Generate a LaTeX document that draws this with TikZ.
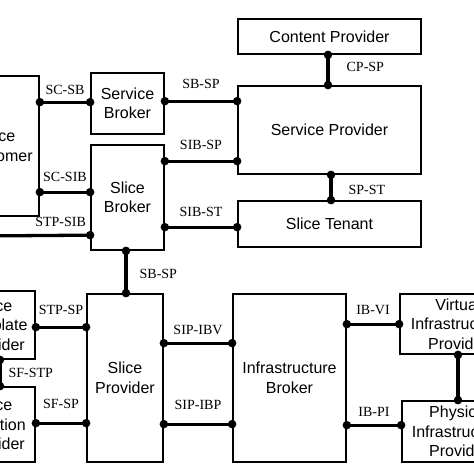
\documentclass[tikz,border=0pt]{standalone}
\usepackage{fontspec}
\setmainfont{Liberation Sans}
\newfontfamily\lblfont{Liberation Serif}
\usetikzlibrary{positioning}
\begin{document}
\begin{tikzpicture}[x=1pt,y=-1pt,
  box/.style={draw, line width=1.7pt, inner sep=0pt, align=center, font=\fontsize{16}{19.5}\selectfont},
  conn/.style={line width=3.3pt},
  jdot/.style={circle, fill, inner sep=0pt, minimum size=8.5pt},
  lbl/.style={font=\lblfont\fontsize{14}{14}\selectfont, inner sep=0pt}]
\useasboundingbox (0,0) rectangle (474,474);
\fill[white] (0,0) rectangle (474,474);
\clip (0,0) rectangle (474,474);

\node[box, minimum width=82pt, minimum height=140pt] (sc) at (-2,146) {Slice\\Customer};
\node[box, minimum width=73pt, minimum height=61pt] (sb) at (127.5,103.5) {Service\\Broker};
\node[box, minimum width=73pt, minimum height=105pt] (slb) at (127.5,197.5) {Slice\\Broker};
\node[box, minimum width=183pt, minimum height=35pt] (cp) at (329.5,36.5) {Content Provider};
\node[box, minimum width=183pt, minimum height=88pt] (sp) at (329.5,130) {Service Provider};
\node[box, minimum width=183pt, minimum height=46pt] (st) at (329.5,224) {Slice Tenant};
\node[box, minimum width=80pt, minimum height=68pt] (stp) at (-5,325) {Slice\\Template\\Provider};
\node[box, minimum width=80pt, minimum height=75pt] (sfp) at (-5,424.5) {Slice\\Function\\Provider};
\node[box, minimum width=76pt, minimum height=168pt] (slp) at (125,378) {Slice\\Provider};
\node[box, minimum width=113pt, minimum height=168pt] (ib) at (289.5,378) {Infrastructure\\Broker};
\node[box, minimum width=116pt, minimum height=60pt] (vip) at (458,324) {Virtual\\Infrastructure\\Provider};
\node[box, minimum width=114pt, minimum height=61pt] (pip) at (459,431.5) {Physical\\Infrastructure\\Provider};
\coordinate (stpsib) at (-20,236);

% horizontal connectors
\draw[conn] ([yshift=-27pt]sc.north east) -- node[jdot,pos=0]{} node[jdot,pos=1]{} node[lbl,midway,above=5.5pt]{SC-SB} ([yshift=-30pt]sb.north west);
\draw[conn] ([yshift=-117pt]sc.north east) -- node[jdot,pos=0]{} node[jdot,pos=1]{} node[lbl,midway,above=8.5pt]{SC-SIB} ([yshift=-48pt]slb.north west);
\draw[conn] (stpsib) -- node[jdot,pos=1]{} node[lbl,midway,above=7.5pt,xshift=25.5pt]{STP-SIB} ([yshift=-91pt]slb.north west);
\draw[conn] ([yshift=-29pt]sb.north east) -- node[jdot,pos=0]{} node[jdot,pos=1]{} node[lbl,midway,above=10.5pt]{SB-SP} ([yshift=-16pt]sp.north west);
\draw[conn] ([yshift=-17pt]slb.north east) -- node[jdot,pos=0]{} node[jdot,pos=1]{} node[lbl,midway,above=9.5pt]{SIB-SP} ([yshift=-76pt]sp.north west);
\draw[conn] ([yshift=-83pt]slb.north east) -- node[jdot,pos=0]{} node[jdot,pos=1]{} node[lbl,midway,above=8.5pt]{SIB-ST} ([yshift=-27pt]st.north west);
\draw[conn] ([yshift=-37pt]stp.north east) -- node[jdot,pos=0]{} node[jdot,pos=1]{} node[lbl,midway,above=10.5pt]{STP-SP} ([yshift=-34pt]slp.north west);
\draw[conn] ([yshift=-37pt]sfp.north east) -- node[jdot,pos=0]{} node[jdot,pos=1]{} node[lbl,midway,above=12.5pt]{SF-SP} ([yshift=-130pt]slp.north west);
\draw[conn] ([yshift=-50pt]slp.north east) -- node[jdot,pos=0]{} node[jdot,pos=1]{} node[lbl,midway,above=6.5pt]{SIP-IBV} ([yshift=-50pt]ib.north west);
\draw[conn] ([yshift=-131pt]slp.north east) -- node[jdot,pos=0]{} node[jdot,pos=1]{} node[lbl,midway,above=12.5pt]{SIP-IBP} ([yshift=-131pt]ib.north west);
\draw[conn] ([yshift=-31pt]ib.north east) -- node[jdot,pos=0]{} node[jdot,pos=1]{} node[lbl,midway,above=7.5pt]{IB-VI} ([yshift=-31pt]vip.north west);
\draw[conn] ([yshift=-132pt]ib.north east) -- node[jdot,pos=0]{} node[jdot,pos=1]{} node[lbl,midway,above=6.5pt]{IB-PI} ([yshift=-25pt]pip.north west);

% vertical connectors
\draw[conn] ([xshift=-1.5pt]cp.south) -- node[jdot,pos=0]{} node[jdot,pos=1]{} node[lbl,midway,right=17pt,yshift=3pt]{CP-SP} ([xshift=-1.5pt]sp.north);
\draw[conn] ([xshift=1.5pt]sp.south) -- node[jdot,pos=0]{} node[jdot,pos=1]{} node[lbl,midway,right=16pt,yshift=-2.5pt]{SP-ST} ([xshift=1.5pt]st.north);
\draw[conn] ([xshift=-1.5pt]slb.south) -- node[jdot,pos=0]{} node[jdot,pos=1]{} node[lbl,midway,right=12pt,yshift=-2pt]{SB-SP} ([xshift=1pt]slp.north);
\draw[conn] ([xshift=5pt]stp.south) -- node[jdot,pos=0]{} node[jdot,pos=1]{} node[lbl,midway,right=7pt]{SF-STP} ([xshift=5pt]sfp.north);
\draw[conn] (vip.south) -- node[jdot,pos=0]{} node[jdot,pos=1]{} ([xshift=-1pt]pip.north);
\end{tikzpicture}
\end{document}
